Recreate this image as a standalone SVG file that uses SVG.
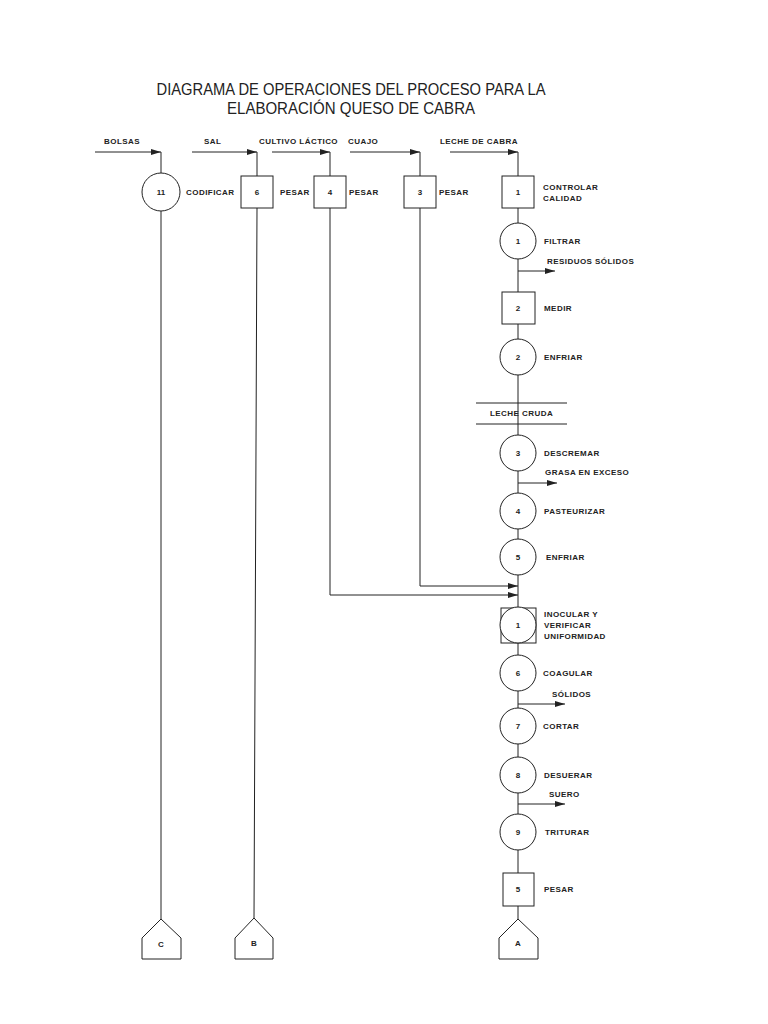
<svg xmlns="http://www.w3.org/2000/svg" width="768" height="1024" viewBox="0 0 768 1024">
<style>
.t{font-family:"Liberation Sans",Arial,sans-serif;font-size:16px;fill:#222}
.l{font-family:"Liberation Sans",Arial,sans-serif;font-size:8px;font-weight:bold;fill:#222;letter-spacing:0.45px}
.n{font-family:"Liberation Sans",Arial,sans-serif;font-size:8px;font-weight:bold;fill:#222;text-anchor:middle}
.s{fill:#fff;stroke:#222;stroke-width:1}
.c{fill:none;stroke:#222;stroke-width:1}
</style>
<defs>
<marker id="ah" markerWidth="10" markerHeight="6" refX="10" refY="3" orient="auto" markerUnits="userSpaceOnUse">
<path d="M0,0 L10,3 L0,6 Z" fill="#222"/>
</marker>
</defs>
<rect width="768" height="1024" fill="#fff"/>
<text class="t" x="351" y="95" text-anchor="middle" textLength="389" lengthAdjust="spacingAndGlyphs">DIAGRAMA DE OPERACIONES DEL PROCESO PARA LA</text>
<text class="t" x="351" y="114" text-anchor="middle" textLength="248" lengthAdjust="spacingAndGlyphs">ELABORACIÓN QUESO DE CABRA</text>

<g id="connectors">
<polyline class="c" points="95,152 161,152" marker-end="url(#ah)"/>
<line class="c" x1="161" y1="152" x2="161" y2="173"/>
<polyline class="c" points="192,152 257,152" marker-end="url(#ah)"/>
<line class="c" x1="257" y1="152" x2="257" y2="176"/>
<polyline class="c" points="272,152 330,152" marker-end="url(#ah)"/>
<line class="c" x1="330" y1="152" x2="330" y2="176"/>
<polyline class="c" points="350,152 420,152" marker-end="url(#ah)"/>
<line class="c" x1="420" y1="152" x2="420" y2="176"/>
<polyline class="c" points="450,152 518,152" marker-end="url(#ah)"/>
<line class="c" x1="518" y1="152" x2="518" y2="176"/>
<line class="c" x1="161" y1="211" x2="161" y2="919"/>
<line class="c" x1="257" y1="208" x2="254" y2="918"/>
<polyline class="c" points="330,208 330,595 518,595" marker-end="url(#ah)"/>
<polyline class="c" points="420,208 420,586 518,586" marker-end="url(#ah)"/>
<line class="c" x1="518" y1="208" x2="518" y2="919"/>
<line class="c" x1="518" y1="271" x2="555" y2="271" marker-end="url(#ah)"/>
<line class="c" x1="518" y1="483" x2="557" y2="483" marker-end="url(#ah)"/>
<line class="c" x1="518" y1="704" x2="565" y2="704" marker-end="url(#ah)"/>
<line class="c" x1="518" y1="804" x2="565" y2="804" marker-end="url(#ah)"/>
<line class="c" x1="476" y1="403" x2="567" y2="403"/>
<line class="c" x1="476" y1="424" x2="567" y2="424"/>
</g>

<g id="input-labels">
<text class="l" x="104" y="144">BOLSAS</text>
<text class="l" x="204" y="144">SAL</text>
<text class="l" x="259" y="144">CULTIVO LÁCTICO</text>
<text class="l" x="348" y="144">CUAJO</text>
<text class="l" x="440" y="144">LECHE DE CABRA</text>
<text class="l" x="547" y="264">RESIDUOS SÓLIDOS</text>
<text class="l" x="545" y="475">GRASA EN EXCESO</text>
<text class="l" x="552" y="697">SÓLIDOS</text>
<text class="l" x="549" y="797">SUERO</text>
<text class="l" x="490" y="416">LECHE CRUDA</text>
</g>

<g id="op11"><circle class="s" cx="161" cy="192" r="19"/><text class="n" x="161" y="195">11</text><text class="l" x="186" y="195">CODIFICAR</text></g>
<g id="insp6"><rect class="s" x="241" y="176" width="32" height="32"/><text class="n" x="257" y="195">6</text><text class="l" x="280" y="195">PESAR</text></g>
<g id="insp4"><rect class="s" x="314" y="176" width="32" height="32"/><text class="n" x="330" y="195">4</text><text class="l" x="349" y="195">PESAR</text></g>
<g id="insp3"><rect class="s" x="404" y="176" width="32" height="32"/><text class="n" x="420" y="195">3</text><text class="l" x="439" y="195">PESAR</text></g>
<g id="insp1"><rect class="s" x="502" y="176" width="32" height="32"/><text class="n" x="518" y="195">1</text><text class="l" x="543" y="190">CONTROLAR</text><text class="l" x="543" y="201">CALIDAD</text></g>
<g id="op1"><circle class="s" cx="518" cy="241" r="18"/><text class="n" x="518" y="244">1</text><text class="l" x="544" y="244">FILTRAR</text></g>
<g id="insp2"><rect class="s" x="502" y="292" width="33" height="32"/><text class="n" x="518" y="311">2</text><text class="l" x="544" y="311">MEDIR</text></g>
<g id="op2"><circle class="s" cx="518" cy="357" r="18"/><text class="n" x="518" y="360">2</text><text class="l" x="544" y="360">ENFRIAR</text></g>
<g id="op3"><circle class="s" cx="518" cy="453" r="18"/><text class="n" x="518" y="456">3</text><text class="l" x="544" y="456">DESCREMAR</text></g>
<g id="op4"><circle class="s" cx="518" cy="511" r="18"/><text class="n" x="518" y="514">4</text><text class="l" x="544" y="514">PASTEURIZAR</text></g>
<g id="op5"><circle class="s" cx="518" cy="557" r="18"/><text class="n" x="518" y="560">5</text><text class="l" x="546" y="560">ENFRIAR</text></g>
<g id="comb1"><rect class="s" x="501" y="608" width="35" height="35"/><circle class="s" cx="518" cy="625" r="18"/><text class="n" x="518" y="628">1</text><text class="l" x="544" y="617">INOCULAR Y</text><text class="l" x="544" y="628">VERIFICAR</text><text class="l" x="544" y="639">UNIFORMIDAD</text></g>
<g id="op6"><circle class="s" cx="518" cy="673" r="18"/><text class="n" x="518" y="676">6</text><text class="l" x="543" y="676">COAGULAR</text></g>
<g id="op7"><circle class="s" cx="518" cy="726" r="18"/><text class="n" x="518" y="729">7</text><text class="l" x="543" y="729">CORTAR</text></g>
<g id="op8"><circle class="s" cx="518" cy="775" r="18"/><text class="n" x="518" y="778">8</text><text class="l" x="544" y="778">DESUERAR</text></g>
<g id="op9"><circle class="s" cx="518" cy="832" r="18"/><text class="n" x="518" y="835">9</text><text class="l" x="545" y="835">TRITURAR</text></g>
<g id="insp5"><rect class="s" x="503" y="873" width="31" height="33"/><text class="n" x="518" y="892">5</text><text class="l" x="544" y="892">PESAR</text></g>
<g id="conC"><polygon class="s" points="161,919 181,938 181,959 142,959 142,938"/><text class="n" x="161" y="947">C</text></g>
<g id="conB"><polygon class="s" points="254,918 273,938 273,959 235,959 235,938"/><text class="n" x="254" y="946">B</text></g>
<g id="conA"><polygon class="s" points="518,919 538,938 538,959 499,959 499,938"/><text class="n" x="518" y="946">A</text></g>
</svg>
